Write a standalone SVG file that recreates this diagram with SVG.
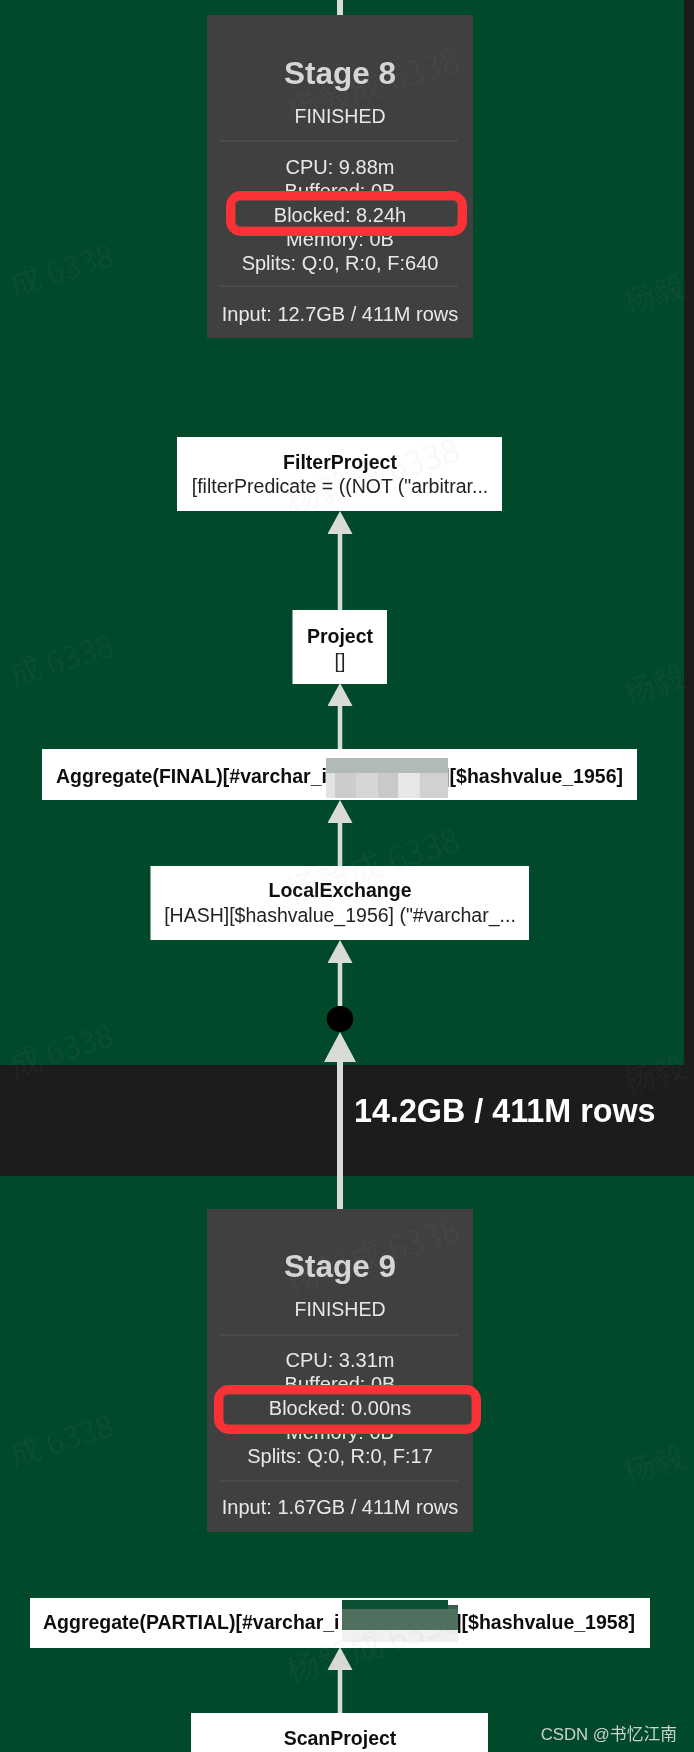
<svg xmlns="http://www.w3.org/2000/svg" width="694" height="1752" viewBox="0 0 694 1752">
  <style>
    text { font-family: "Liberation Sans", "Noto Sans CJK SC", sans-serif; text-anchor: middle; }
    .stage { fill: #404040; }
    .title { font-size: 31.500px; font-weight: 700; fill: #d6d6d6; }
    .body { font-size: 20px; fill: #e8e8e8; }
    .status { font-size: 19.500px; fill: #e8e8e8; }
    .div { stroke: #585858; stroke-width: 1.2; }
    .hl { fill: #404040; stroke: #fa3338; stroke-width: 10; }
    .hlin { fill: none; stroke: #1f4a45; stroke-width: 1; }
    .node { fill: #ffffff; }
    .nt { font-size: 19.500px; font-weight: 700; fill: #111111; }
    .ns { font-size: 19.500px; fill: #222222; }
    .edge { stroke: #d9dbd8; stroke-width: 4.5; fill: none; marker-end: url(#arrow); }
    .plain { stroke: #d9dbd8; stroke-width: 6; fill: none; }
    .wm { font-size: 33px; fill: #8a8a8a; fill-opacity: 0.055; font-family: "Noto Sans CJK SC", "Liberation Sans", sans-serif; }
    .wms { font-size: 31px; }
  </style>
  <defs>
    <marker id="arrow" markerUnits="userSpaceOnUse" markerWidth="23" markerHeight="25" refX="0" refY="12.5" orient="auto" viewBox="0 0 23 25">
      <path d="M0 0L23 12.5L0 25z" fill="#d9dbd8"/>
    </marker>
    <marker id="arrowBig" markerUnits="userSpaceOnUse" markerWidth="30" markerHeight="32" refX="0" refY="16" orient="auto" viewBox="0 0 30 32">
      <path d="M0 0L30 16L0 32z" fill="#d9dbd8"/>
    </marker>
    <filter id="soft" x="0" y="0" width="1" height="1"><feGaussianBlur stdDeviation="0.45"/></filter>
  </defs>

  <g filter="url(#soft)">
    <rect id="background" width="694" height="1752" fill="#02492b"/>
    <rect id="right-strip" x="684" y="0" width="10" height="1065" fill="#1c1c1c"/>
    <rect id="band" x="0" y="1065" width="694" height="111" fill="#1c1c1c"/>

    <g id="connectors">
      <line class="plain" x1="340" y1="15" x2="340" y2="0"/>
      <line class="edge" x1="340" y1="610" x2="340" y2="534"/>
      <line class="edge" x1="340" y1="749" x2="340" y2="706"/>
      <line class="edge" x1="340" y1="866" x2="340" y2="823"/>
      <line class="edge" x1="340" y1="1006" x2="340" y2="963"/>
      <line class="plain" x1="340" y1="1209" x2="340" y2="1062" style="marker-end:url(#arrowBig)"/>
      <line class="edge" x1="340" y1="1713" x2="340" y2="1670"/>
    </g>

    <g id="stage-8">
      <rect class="stage" x="207" y="15" width="266" height="323"/>
      <text class="title" x="340" y="84">Stage 8</text>
      <text class="status" x="340" y="123">FINISHED</text>
      <line class="div" x1="220" y1="141" x2="458" y2="141"/>
      <text class="body" x="340" y="174">CPU: 9.88m</text>
      <text class="body" x="340" y="198">Buffered: 0B</text>
      <text class="body" x="340" y="246">Memory: 0B</text>
      <rect class="hl" x="231" y="196" width="231" height="35" rx="10"/>
      <rect class="hlin" x="236" y="201" width="221" height="25" rx="3"/>
      <text class="body" x="340" y="222">Blocked: 8.24h</text>
      <text class="body" x="340" y="270">Splits: Q:0, R:0, F:640</text>
      <line class="div" x1="220" y1="286" x2="458" y2="286"/>
      <text class="body" x="340" y="321">Input: 12.7GB / 411M rows</text>
    </g>

    <g id="filter-project">
      <rect class="node" x="177" y="437" width="325" height="74"/>
      <text class="nt" x="340" y="469">FilterProject</text>
      <text class="ns" x="340" y="493">[filterPredicate = ((NOT ("arbitrar...</text>
    </g>

    <g id="project">
      <rect class="node" x="292.500" y="610" width="94.500" height="74"/>
      <text class="nt" x="340" y="643">Project</text>
      <text class="ns" x="340" y="668">[]</text>
    </g>

    <g id="aggregate-final">
      <rect class="node" x="42" y="749" width="595" height="51"/>
      <text class="nt" x="56" y="783" style="text-anchor:start">Aggregate(FINAL)[#varchar_i</text>
      <text class="nt" x="623" y="783" style="text-anchor:end">][$hashvalue_1956]</text>
      <rect x="326" y="758" width="122" height="15" fill="#b2bab5"/>
      <rect x="326" y="773" width="9" height="25" fill="#e2e4e2"/>
      <rect x="335" y="773" width="21" height="25" fill="#cbcdcb"/>
      <rect x="356" y="773" width="21.500" height="25" fill="#d5d7d5"/>
      <rect x="377.500" y="773" width="20.500" height="25" fill="#c8cac8"/>
      <rect x="398" y="773" width="21.500" height="25" fill="#e6e8e6"/>
      <rect x="419.500" y="773" width="28.500" height="25" fill="#d0d2d0"/>
    </g>

    <g id="local-exchange">
      <rect class="node" x="150.500" y="866" width="378.500" height="74"/>
      <text class="nt" x="340" y="897">LocalExchange</text>
      <text class="ns" x="340" y="922">[HASH][$hashvalue_1956] ("#varchar_...</text>
    </g>

    <g id="junction">
      <ellipse cx="340" cy="1019" rx="13.200" ry="13" fill="#000000"/>
    </g>

    <g id="edge-label">
      <text x="354" y="1122" font-size="32.300" font-weight="700" fill="#ffffff" style="text-anchor:start">14.2GB / 411M rows</text>
    </g>

    <g id="stage-9">
      <rect class="stage" x="207" y="1209" width="266" height="323"/>
      <text class="title" x="340" y="1277">Stage 9</text>
      <text class="status" x="340" y="1316">FINISHED</text>
      <line class="div" x1="220" y1="1335" x2="458" y2="1335"/>
      <text class="body" x="340" y="1367">CPU: 3.31m</text>
      <text class="body" x="340" y="1391">Buffered: 0B</text>
      <text class="body" x="340" y="1439">Memory: 0B</text>
      <rect class="hl" x="219" y="1390" width="257" height="39" rx="10"/>
      <rect class="hlin" x="224" y="1395" width="247" height="29" rx="3"/>
      <text class="body" x="340" y="1415">Blocked: 0.00ns</text>
      <text class="body" x="340" y="1463">Splits: Q:0, R:0, F:17</text>
      <line class="div" x1="220" y1="1481" x2="458" y2="1481"/>
      <text class="body" x="340" y="1514">Input: 1.67GB / 411M rows</text>
    </g>

    <g id="aggregate-partial">
      <rect class="node" x="30" y="1598" width="620" height="50"/>
      <text class="nt" x="43" y="1629" style="text-anchor:start">Aggregate(PARTIAL)[#varchar_i</text>
      <text class="nt" x="635" y="1629" style="text-anchor:end">][$hashvalue_1958]</text>
      <rect x="342" y="1630" width="116" height="12" fill="#f0f1f0"/>
      <rect x="342" y="1609" width="116" height="21" fill="#4f6f5f"/>
      <rect x="342" y="1600" width="106" height="9" fill="#0f4f33"/>
      <rect x="448" y="1605" width="10" height="4" fill="#33604a"/>
    </g>

    <g id="scan-project">
      <rect class="node" x="191" y="1713" width="297" height="39"/>
      <text class="nt" x="340" y="1745">ScanProject</text>
    </g>

    <g id="watermarks">
      <text class="wm" x="462" y="70" transform="rotate(-17.500 462 70)" style="text-anchor:end">杨毅成 6338</text>
      <text class="wm" x="462" y="460" transform="rotate(-17.500 462 460)" style="text-anchor:end">杨毅成 6338</text>
      <text class="wm" x="462" y="850" transform="rotate(-17.500 462 850)" style="text-anchor:end">杨毅成 6338</text>
      <text class="wm" x="462" y="1240" transform="rotate(-17.500 462 1240)" style="text-anchor:end">杨毅成 6338</text>
      <text class="wm" x="462" y="1630" transform="rotate(-17.500 462 1630)" style="text-anchor:end">杨毅成 6338</text>
      <text class="wm wms" x="116" y="265" transform="rotate(-17.500 116 265)" style="text-anchor:end">成 6338</text>
      <text class="wm wms" x="116" y="655" transform="rotate(-17.500 116 655)" style="text-anchor:end">成 6338</text>
      <text class="wm wms" x="116" y="1045" transform="rotate(-17.500 116 1045)" style="text-anchor:end">成 6338</text>
      <text class="wm wms" x="116" y="1435" transform="rotate(-17.500 116 1435)" style="text-anchor:end">成 6338</text>
      <text class="wm wms" x="628" y="315" transform="rotate(-17.500 628 315)" style="text-anchor:start">杨毅</text>
      <text class="wm wms" x="628" y="705" transform="rotate(-17.500 628 705)" style="text-anchor:start">杨毅</text>
      <text class="wm wms" x="628" y="1095" transform="rotate(-17.500 628 1095)" style="text-anchor:start">杨毅</text>
      <text class="wm wms" x="628" y="1485" transform="rotate(-17.500 628 1485)" style="text-anchor:start">杨毅</text>
    </g>

    <text id="csdn-mark" x="677" y="1740" font-size="16.800" fill="#c9d2cc" style="text-anchor:end">CSDN @书忆江南</text>
  </g>
</svg>
